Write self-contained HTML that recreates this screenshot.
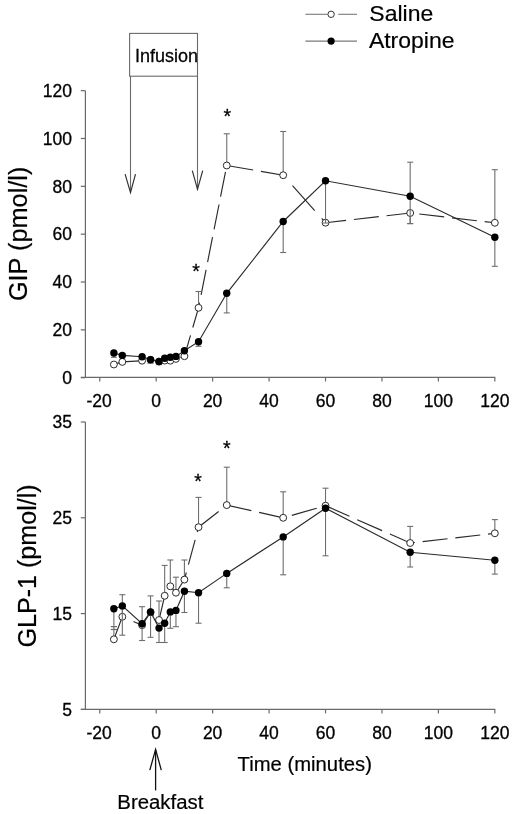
<!DOCTYPE html>
<html><head><meta charset="utf-8"><style>
html,body{margin:0;padding:0;background:#fff;}
body{width:520px;height:814px;overflow:hidden;}
svg{display:block;}
text{font-family:"Liberation Sans",Arial,sans-serif;fill:#000;stroke:#000;stroke-width:0.3px;}
.num{font-size:17px;}
.num text{font-size:17.5px;}
.ast{font-size:19.5px;}
.inf{font-size:17.5px;stroke-width:0.25px;}
.leg{font-size:22px;stroke-width:0.2px;}
.ttl{font-size:25px;stroke-width:0.2px;}
.xt{font-size:19.6px;stroke-width:0.2px;}
</style></head><body>
<svg width="520" height="814" viewBox="0 0 520 814">
<rect width="520" height="814" fill="#fff"/>
<g stroke="#6a6a6a" stroke-width="1.2"><line x1="85.4" y1="90.66" x2="85.4" y2="377.45"/><line x1="80.8" y1="377.45" x2="495.3" y2="377.45"/><line x1="80.8" y1="90.66" x2="85.4" y2="90.66"/><line x1="80.8" y1="138.50" x2="85.4" y2="138.50"/><line x1="80.8" y1="186.34" x2="85.4" y2="186.34"/><line x1="80.8" y1="234.18" x2="85.4" y2="234.18"/><line x1="80.8" y1="282.02" x2="85.4" y2="282.02"/><line x1="80.8" y1="329.86" x2="85.4" y2="329.86"/><line x1="80.8" y1="377.70" x2="85.4" y2="377.70"/><line x1="99.76" y1="377.45" x2="99.76" y2="381.45"/><line x1="156.20" y1="377.45" x2="156.20" y2="381.45"/><line x1="212.64" y1="377.45" x2="212.64" y2="381.45"/><line x1="269.08" y1="377.45" x2="269.08" y2="381.45"/><line x1="325.52" y1="377.45" x2="325.52" y2="381.45"/><line x1="381.96" y1="377.45" x2="381.96" y2="381.45"/><line x1="438.40" y1="377.45" x2="438.40" y2="381.45"/><line x1="494.84" y1="377.45" x2="494.84" y2="381.45"/></g><g class="num"><text x="72.0" y="96.91" text-anchor="end">120</text><text x="72.0" y="144.75" text-anchor="end">100</text><text x="72.0" y="192.59" text-anchor="end">80</text><text x="72.0" y="240.43" text-anchor="end">60</text><text x="72.0" y="288.27" text-anchor="end">40</text><text x="72.0" y="336.11" text-anchor="end">20</text><text x="72.0" y="383.95" text-anchor="end">0</text><text x="99.16" y="407.20" text-anchor="middle">-20</text><text x="156.20" y="407.20" text-anchor="middle">0</text><text x="212.64" y="407.20" text-anchor="middle">20</text><text x="269.08" y="407.20" text-anchor="middle">40</text><text x="325.52" y="407.20" text-anchor="middle">60</text><text x="381.96" y="407.20" text-anchor="middle">80</text><text x="438.40" y="407.20" text-anchor="middle">100</text><text x="494.84" y="407.20" text-anchor="middle">120</text></g>
<g stroke="#6a6a6a" stroke-width="1.2"><line x1="85.4" y1="422.00" x2="85.4" y2="709.40"/><line x1="80.8" y1="709.40" x2="495.3" y2="709.40"/><line x1="80.8" y1="422.00" x2="85.4" y2="422.00"/><line x1="80.8" y1="517.80" x2="85.4" y2="517.80"/><line x1="80.8" y1="613.60" x2="85.4" y2="613.60"/><line x1="80.8" y1="709.40" x2="85.4" y2="709.40"/><line x1="99.76" y1="709.40" x2="99.76" y2="713.40"/><line x1="156.20" y1="709.40" x2="156.20" y2="713.40"/><line x1="212.64" y1="709.40" x2="212.64" y2="713.40"/><line x1="269.08" y1="709.40" x2="269.08" y2="713.40"/><line x1="325.52" y1="709.40" x2="325.52" y2="713.40"/><line x1="381.96" y1="709.40" x2="381.96" y2="713.40"/><line x1="438.40" y1="709.40" x2="438.40" y2="713.40"/><line x1="494.84" y1="709.40" x2="494.84" y2="713.40"/></g><g class="num"><text x="72.0" y="428.25" text-anchor="end">35</text><text x="72.0" y="524.05" text-anchor="end">25</text><text x="72.0" y="619.85" text-anchor="end">15</text><text x="72.0" y="715.65" text-anchor="end">5</text><text x="99.16" y="738.80" text-anchor="middle">-20</text><text x="156.20" y="738.80" text-anchor="middle">0</text><text x="212.64" y="738.80" text-anchor="middle">20</text><text x="269.08" y="738.80" text-anchor="middle">40</text><text x="325.52" y="738.80" text-anchor="middle">60</text><text x="381.96" y="738.80" text-anchor="middle">80</text><text x="438.40" y="738.80" text-anchor="middle">100</text><text x="494.84" y="738.80" text-anchor="middle">120</text></g>
<path d="M115.02,364.15 L122.34,361.90 L139.92,360.83M147.72,360.10 L150.56,359.80 L159.02,361.50 L164.67,360.60 L170.31,360.70 L172.62,359.96M180.42,357.48 L184.42,356.20 L190.51,335.30M192.79,327.50 L198.53,307.80 L199.56,302.60M201.11,294.80 L206.05,269.90M207.59,262.10 L212.53,237.20M214.08,229.40 L219.02,204.50M220.56,196.70 L225.50,171.80M228.25,165.76 L253.15,170.04M260.95,171.38 L283.19,175.20 L285.56,177.86M292.51,185.66 L314.70,210.56M321.65,218.36 L325.52,222.70 L346.08,220.34M353.88,219.45 L378.78,216.60M386.58,215.70 L410.18,213.00 L411.48,213.15M419.28,214.05 L444.18,216.94M451.98,217.84 L476.88,220.72M484.68,221.62 L494.84,222.80" fill="none" stroke="#2a2a2a" stroke-width="1.15"/>
<g stroke="#6e6e6e" stroke-width="1.1"><line x1="198.53" y1="307.80" x2="198.53" y2="291.50"/><line x1="195.53" y1="291.50" x2="201.53" y2="291.50"/><line x1="226.75" y1="165.50" x2="226.75" y2="133.80"/><line x1="223.75" y1="133.80" x2="229.75" y2="133.80"/><line x1="283.19" y1="175.20" x2="283.19" y2="131.50"/><line x1="280.19" y1="131.50" x2="286.19" y2="131.50"/><line x1="494.84" y1="222.80" x2="494.84" y2="169.70"/><line x1="491.84" y1="169.70" x2="497.84" y2="169.70"/><line x1="410.18" y1="213.00" x2="410.18" y2="223.60"/><line x1="407.18" y1="223.60" x2="413.18" y2="223.60"/></g>
<g fill="#fff" stroke="#2a2a2a" stroke-width="1"><circle cx="113.87" cy="364.50" r="3.45"/><circle cx="122.34" cy="361.90" r="3.45"/><circle cx="142.09" cy="360.70" r="3.45"/><circle cx="150.56" cy="359.80" r="3.45"/><circle cx="159.02" cy="361.50" r="3.45"/><circle cx="164.67" cy="360.60" r="3.45"/><circle cx="170.31" cy="360.70" r="3.45"/><circle cx="175.95" cy="358.90" r="3.45"/><circle cx="184.42" cy="356.20" r="3.45"/><circle cx="198.53" cy="307.80" r="3.45"/><circle cx="226.75" cy="165.50" r="3.45"/><circle cx="283.19" cy="175.20" r="3.45"/><circle cx="325.52" cy="222.70" r="3.45"/><circle cx="410.18" cy="213.00" r="3.45"/><circle cx="494.84" cy="222.80" r="3.45"/></g>
<polyline points="113.87,353.00 122.34,355.40 142.09,356.80 150.56,359.60 159.02,361.60 164.67,358.20 170.31,357.30 175.95,356.40 184.42,350.80 198.53,341.70 226.75,293.30 283.19,221.50 325.52,180.80 410.18,196.20 494.84,237.20" fill="none" stroke="#2a2a2a" stroke-width="1.15"/>
<g stroke="#6e6e6e" stroke-width="1.1"><line x1="113.87" y1="353.00" x2="113.87" y2="357.30"/><line x1="110.87" y1="357.30" x2="116.87" y2="357.30"/><line x1="150.56" y1="359.60" x2="150.56" y2="363.30"/><line x1="147.56" y1="363.30" x2="153.56" y2="363.30"/><line x1="159.02" y1="361.60" x2="159.02" y2="364.60"/><line x1="156.02" y1="364.60" x2="162.02" y2="364.60"/><line x1="198.53" y1="341.70" x2="198.53" y2="346.30"/><line x1="195.53" y1="346.30" x2="201.53" y2="346.30"/><line x1="226.75" y1="293.30" x2="226.75" y2="312.90"/><line x1="223.75" y1="312.90" x2="229.75" y2="312.90"/><line x1="283.19" y1="221.50" x2="283.19" y2="252.50"/><line x1="280.19" y1="252.50" x2="286.19" y2="252.50"/><line x1="325.52" y1="180.80" x2="325.52" y2="223.00"/><line x1="322.52" y1="223.00" x2="328.52" y2="223.00"/><line x1="407.18" y1="162.20" x2="413.18" y2="162.20"/><line x1="410.18" y1="162.20" x2="410.18" y2="223.60"/><line x1="407.18" y1="223.60" x2="413.18" y2="223.60"/><line x1="494.84" y1="237.20" x2="494.84" y2="266.30"/><line x1="491.84" y1="266.30" x2="497.84" y2="266.30"/></g>
<g fill="#000"><circle cx="113.87" cy="353.00" r="3.7"/><circle cx="122.34" cy="355.40" r="3.7"/><circle cx="142.09" cy="356.80" r="3.7"/><circle cx="150.56" cy="359.60" r="3.7"/><circle cx="159.02" cy="361.60" r="3.7"/><circle cx="164.67" cy="358.20" r="3.7"/><circle cx="170.31" cy="357.30" r="3.7"/><circle cx="175.95" cy="356.40" r="3.7"/><circle cx="184.42" cy="350.80" r="3.7"/><circle cx="198.53" cy="341.70" r="3.7"/><circle cx="226.75" cy="293.30" r="3.7"/><circle cx="283.19" cy="221.50" r="3.7"/><circle cx="325.52" cy="180.80" r="3.7"/><circle cx="410.18" cy="196.20" r="3.7"/><circle cx="494.84" cy="237.20" r="3.7"/></g>
<path d="M114.22,638.38 L122.34,616.80 L125.66,618.21M133.46,621.53 L142.09,625.20 L150.56,612.30 L153.92,615.36M159.65,617.30 L164.67,595.80 L166.69,592.40M171.81,588.00 L175.95,592.70 L184.42,579.60 L186.33,572.50M188.43,564.70 L195.14,539.80M197.24,532.00 L198.53,527.20 L218.63,511.46M226.43,505.35 L226.75,505.10 L251.33,510.63M259.13,512.39 L283.19,517.80 L284.03,517.56M291.83,515.33 L316.73,508.21M324.53,505.98 L325.52,505.70 L349.43,516.23M357.23,519.67 L382.13,530.64M389.93,534.08 L410.18,543.00 L414.83,542.47M422.63,541.57 L447.53,538.72M455.33,537.83 L480.23,534.97M488.03,534.08 L494.84,533.30" fill="none" stroke="#2a2a2a" stroke-width="1.15"/>
<g stroke="#6e6e6e" stroke-width="1.1"><line x1="113.87" y1="639.30" x2="113.87" y2="629.50"/><line x1="110.87" y1="629.50" x2="116.87" y2="629.50"/><line x1="122.34" y1="616.80" x2="122.34" y2="594.70"/><line x1="119.34" y1="594.70" x2="125.34" y2="594.70"/><line x1="142.09" y1="625.20" x2="142.09" y2="606.70"/><line x1="139.09" y1="606.70" x2="145.09" y2="606.70"/><line x1="150.56" y1="612.30" x2="150.56" y2="595.90"/><line x1="147.56" y1="595.90" x2="153.56" y2="595.90"/><line x1="159.02" y1="620.00" x2="159.02" y2="601.00"/><line x1="156.02" y1="601.00" x2="162.02" y2="601.00"/><line x1="164.67" y1="595.80" x2="164.67" y2="565.40"/><line x1="161.67" y1="565.40" x2="167.67" y2="565.40"/><line x1="170.31" y1="586.30" x2="170.31" y2="560.00"/><line x1="167.31" y1="560.00" x2="173.31" y2="560.00"/><line x1="175.95" y1="592.70" x2="175.95" y2="577.20"/><line x1="172.95" y1="577.20" x2="178.95" y2="577.20"/><line x1="184.42" y1="579.60" x2="184.42" y2="560.00"/><line x1="181.42" y1="560.00" x2="187.42" y2="560.00"/><line x1="198.53" y1="527.20" x2="198.53" y2="497.40"/><line x1="195.53" y1="497.40" x2="201.53" y2="497.40"/><line x1="226.75" y1="505.10" x2="226.75" y2="467.20"/><line x1="223.75" y1="467.20" x2="229.75" y2="467.20"/><line x1="283.19" y1="517.80" x2="283.19" y2="491.80"/><line x1="280.19" y1="491.80" x2="286.19" y2="491.80"/><line x1="325.52" y1="505.70" x2="325.52" y2="488.20"/><line x1="322.52" y1="488.20" x2="328.52" y2="488.20"/><line x1="410.18" y1="543.00" x2="410.18" y2="526.40"/><line x1="407.18" y1="526.40" x2="413.18" y2="526.40"/><line x1="494.84" y1="533.30" x2="494.84" y2="519.60"/><line x1="491.84" y1="519.60" x2="497.84" y2="519.60"/></g>
<g fill="#fff" stroke="#2a2a2a" stroke-width="1"><circle cx="113.87" cy="639.30" r="3.45"/><circle cx="122.34" cy="616.80" r="3.45"/><circle cx="142.09" cy="625.20" r="3.45"/><circle cx="150.56" cy="612.30" r="3.45"/><circle cx="159.02" cy="620.00" r="3.45"/><circle cx="164.67" cy="595.80" r="3.45"/><circle cx="170.31" cy="586.30" r="3.45"/><circle cx="175.95" cy="592.70" r="3.45"/><circle cx="184.42" cy="579.60" r="3.45"/><circle cx="198.53" cy="527.20" r="3.45"/><circle cx="226.75" cy="505.10" r="3.45"/><circle cx="283.19" cy="517.80" r="3.45"/><circle cx="325.52" cy="505.70" r="3.45"/><circle cx="410.18" cy="543.00" r="3.45"/><circle cx="494.84" cy="533.30" r="3.45"/></g>
<polyline points="113.87,608.80 122.34,605.90 142.09,623.70 150.56,611.90 159.02,628.10 164.67,623.20 170.31,611.90 175.95,610.40 184.42,591.20 198.53,592.70 226.75,573.40 283.19,536.90 325.52,508.20 410.18,552.30 494.84,560.20" fill="none" stroke="#2a2a2a" stroke-width="1.15"/>
<g stroke="#6e6e6e" stroke-width="1.1"><line x1="113.87" y1="608.80" x2="113.87" y2="629.50"/><line x1="110.87" y1="629.50" x2="116.87" y2="629.50"/><line x1="110.87" y1="626.60" x2="116.87" y2="626.60"/><line x1="113.87" y1="626.60" x2="113.87" y2="626.60"/><line x1="110.87" y1="626.60" x2="116.87" y2="626.60"/><line x1="122.34" y1="605.90" x2="122.34" y2="635.20"/><line x1="119.34" y1="635.20" x2="125.34" y2="635.20"/><line x1="142.09" y1="623.70" x2="142.09" y2="640.50"/><line x1="139.09" y1="640.50" x2="145.09" y2="640.50"/><line x1="150.56" y1="611.90" x2="150.56" y2="637.30"/><line x1="147.56" y1="637.30" x2="153.56" y2="637.30"/><line x1="159.02" y1="628.10" x2="159.02" y2="642.50"/><line x1="156.02" y1="642.50" x2="162.02" y2="642.50"/><line x1="164.67" y1="623.20" x2="164.67" y2="642.50"/><line x1="161.67" y1="642.50" x2="167.67" y2="642.50"/><line x1="170.31" y1="611.90" x2="170.31" y2="628.30"/><line x1="167.31" y1="628.30" x2="173.31" y2="628.30"/><line x1="175.95" y1="610.40" x2="175.95" y2="626.70"/><line x1="172.95" y1="626.70" x2="178.95" y2="626.70"/><line x1="184.42" y1="591.20" x2="184.42" y2="612.50"/><line x1="181.42" y1="612.50" x2="187.42" y2="612.50"/><line x1="198.53" y1="592.70" x2="198.53" y2="623.20"/><line x1="195.53" y1="623.20" x2="201.53" y2="623.20"/><line x1="226.75" y1="573.40" x2="226.75" y2="587.80"/><line x1="223.75" y1="587.80" x2="229.75" y2="587.80"/><line x1="283.19" y1="536.90" x2="283.19" y2="574.80"/><line x1="280.19" y1="574.80" x2="286.19" y2="574.80"/><line x1="325.52" y1="508.20" x2="325.52" y2="555.80"/><line x1="322.52" y1="555.80" x2="328.52" y2="555.80"/><line x1="410.18" y1="552.30" x2="410.18" y2="567.00"/><line x1="407.18" y1="567.00" x2="413.18" y2="567.00"/><line x1="494.84" y1="560.20" x2="494.84" y2="574.10"/><line x1="491.84" y1="574.10" x2="497.84" y2="574.10"/></g>
<g fill="#000"><circle cx="113.87" cy="608.80" r="3.7"/><circle cx="122.34" cy="605.90" r="3.7"/><circle cx="142.09" cy="623.70" r="3.7"/><circle cx="150.56" cy="611.90" r="3.7"/><circle cx="159.02" cy="628.10" r="3.7"/><circle cx="164.67" cy="623.20" r="3.7"/><circle cx="170.31" cy="611.90" r="3.7"/><circle cx="175.95" cy="610.40" r="3.7"/><circle cx="184.42" cy="591.20" r="3.7"/><circle cx="198.53" cy="592.70" r="3.7"/><circle cx="226.75" cy="573.40" r="3.7"/><circle cx="283.19" cy="536.90" r="3.7"/><circle cx="325.52" cy="508.20" r="3.7"/><circle cx="410.18" cy="552.30" r="3.7"/><circle cx="494.84" cy="560.20" r="3.7"/></g>
<text class="ast" x="227.30" y="122.50" text-anchor="middle">*</text>
<text class="ast" x="196.00" y="277.70" text-anchor="middle">*</text>
<text class="ast" x="198.00" y="488.10" text-anchor="middle">*</text>
<text class="ast" x="226.80" y="455.10" text-anchor="middle">*</text>
<g stroke="#6a6a6a" stroke-width="1.1" fill="none">
<rect x="129.6" y="33.4" width="67.9" height="42.8" fill="#fff"/>
<line x1="130.5" y1="76" x2="130.5" y2="193"/>
<line x1="197.5" y1="76" x2="197.5" y2="190"/>
</g>
<g stroke="#333" stroke-width="1.2" fill="none" stroke-linejoin="miter">
<polyline points="125.1,174.1 130.5,192.6 135.5,174.1"/>
<polyline points="192.3,170.6 197.5,189.3 202.7,170.6"/>
</g>
<text class="inf" transform="translate(135.0,61.9) scale(1.03,1)">Infusion</text>
<g stroke="#7a7a7a" stroke-width="1.1">
<line x1="305.4" y1="14.3" x2="327.6" y2="14.3"/>
<line x1="338.2" y1="14.3" x2="357" y2="14.3"/>
<line x1="305.4" y1="41.1" x2="357" y2="41.1"/>
</g>
<circle cx="331.1" cy="14.3" r="3.2" fill="#fff" stroke="#333" stroke-width="1"/>
<circle cx="331.1" cy="41.1" r="3.6" fill="#000"/>
<text class="leg" transform="translate(369.3,21.2) scale(1.045,1)">Saline</text>
<text class="leg" transform="translate(368.9,47.7) scale(1.045,1)">Atropine</text>
<text class="ttl" transform="translate(26.5,301.1) rotate(-90) scale(1.012,1)">GIP (pmol/l)</text>
<text class="ttl" transform="translate(36,647.5) rotate(-90) scale(1.004,1)">GLP-1 (pmol/l)</text>
<text class="xt" transform="translate(237.5,771.1) scale(1.035,1)">Time (minutes)</text>
<g stroke="#111" stroke-width="1.3" fill="none">
<line x1="155.6" y1="750" x2="155.6" y2="790.4"/>
<polyline points="149.8,770.2 155.6,749.4 161.3,770.2"/>
</g>
<text class="xt" transform="translate(117.3,808.8) scale(1.04,1)">Breakfast</text>
</svg>
</body></html>
